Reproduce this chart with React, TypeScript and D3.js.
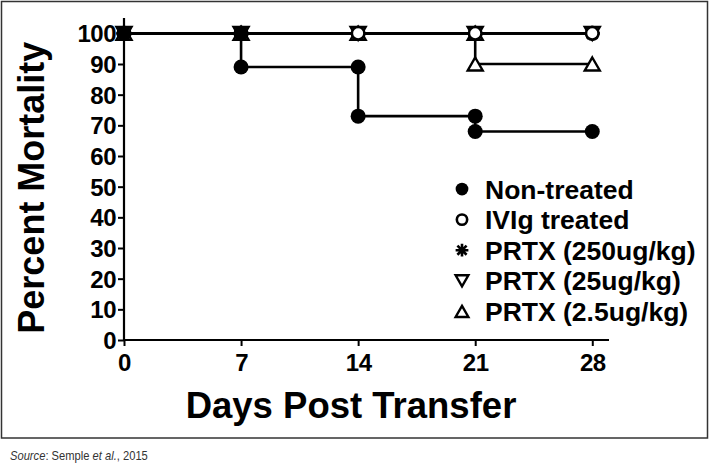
import { useRef, useEffect } from 'react';
import * as d3 from 'd3';

// Kaplan-Meier style mortality data
const DAYS = [0, 7, 14, 21, 28];
const NON_TREATED = [100, 89, 73, 68, 68];
const IVIG_TREATED = [100, 100, 100, 100, 100];
const PRTX_250 = [100, 100, 100, 100, 100];
const PRTX_25 = [100, 100, 100, 100, 100];
const PRTX_2_5 = [100, 100, 100, 90, 90];

const Y_TICKS = [0, 10, 20, 30, 40, 50, 60, 70, 80, 90, 100];
const X_TICKS = [0, 7, 14, 21, 28];

type Shape = 'filled' | 'open' | 'asterisk' | 'down' | 'up';

const SERIES: { name: string; values: number[]; shape: Shape }[] = [
  { name: 'PRTX (250ug/kg)', values: PRTX_250, shape: 'asterisk' },
  { name: 'PRTX (25ug/kg)', values: PRTX_25, shape: 'down' },
  { name: 'PRTX (2.5ug/kg)', values: PRTX_2_5, shape: 'up' },
  { name: 'IVIg treated', values: IVIG_TREATED, shape: 'open' },
  { name: 'Non-treated', values: NON_TREATED, shape: 'filled' },
];

const LEGEND_ORDER = ['Non-treated', 'IVIg treated', 'PRTX (250ug/kg)', 'PRTX (25ug/kg)', 'PRTX (2.5ug/kg)'];

const FONT = '"Liberation Sans", Arial, sans-serif';

function drawMarker(g: d3.Selection<SVGGElement, unknown, null, undefined>, shape: Shape, cx: number, cy: number, s = 1) {
  const r = 7.5 * s;
  if (shape === 'filled') {
    g.append('circle').attr('cx', cx).attr('cy', cy).attr('r', r).attr('fill', '#000');
  } else if (shape === 'open') {
    g.append('circle').attr('cx', cx).attr('cy', cy).attr('r', r - 1.2)
      .attr('fill', '#fff').attr('stroke', '#000').attr('stroke-width', 2.6);
  } else if (shape === 'asterisk') {
    const a = 7.5 * s, d = a * 0.72;
    g.append('path')
      .attr('d', `M${cx - a},${cy}H${cx + a}M${cx},${cy - a}V${cy + a}M${cx - d},${cy - d}L${cx + d},${cy + d}M${cx - d},${cy + d}L${cx + d},${cy - d}`)
      .attr('stroke', '#000').attr('stroke-width', 2.6).attr('fill', 'none');
  } else {
    const w = 7.5 * s, h = 6.5 * s;
    const dir = shape === 'up' ? 1 : -1;
    g.append('path')
      .attr('d', `M${cx},${cy - dir * h}L${cx + w},${cy + dir * h}L${cx - w},${cy + dir * h}Z`)
      .attr('fill', '#fff').attr('stroke', '#000').attr('stroke-width', 2.4).attr('stroke-linejoin', 'miter');
  }
}

export default function App() {
  const svgRef = useRef<SVGSVGElement>(null);

  useEffect(() => {
    if (!svgRef.current) return;
    const width = 712;
    const height = 469;
    const svg = d3.select(svgRef.current);
    svg.selectAll('*').remove();

    const x = d3.scaleLinear().domain([0, 29]).range([124, 609]);
    const y = d3.scaleLinear().domain([0, 105]).range([340, 18]);

    svg.append('rect').attr('width', width).attr('height', height).attr('fill', '#fff');

    // Frame
    svg.append('rect')
      .attr('x', 1.5).attr('y', 1.5).attr('width', 706).attr('height', 436.5)
      .attr('fill', 'none').attr('stroke', '#333').attr('stroke-width', 1.5);

    // Axes
    svg.append('g')
      .attr('transform', `translate(${x(0)},0)`)
      .call(d3.axisLeft(y).tickValues(Y_TICKS).tickSize(6).tickPadding(2).tickFormat(d => `${d}`))
      .call(g => g.select('.domain').attr('stroke', '#000').attr('stroke-width', 2.2).attr('d', `M0,${y(0)}V${y(105)}`))
      .call(g => g.selectAll('.tick line').attr('stroke', '#000').attr('stroke-width', 2))
      .call(g => g.selectAll('.tick text')
        .attr('fill', '#000').attr('font-size', '24px').attr('font-weight', 'bold')
        .attr('font-family', FONT).attr('dy', '0.36em').attr('letter-spacing', '-0.5px'));

    svg.append('g')
      .attr('transform', `translate(0,${y(0)})`)
      .call(d3.axisBottom(x).tickValues(X_TICKS).tickSize(6).tickPadding(8).tickFormat(d => `${d}`))
      .call(g => g.select('.domain').attr('stroke', '#000').attr('stroke-width', 2.2).attr('d', `M${x(0)},0H${x(29)}`))
      .call(g => g.selectAll('.tick line').attr('stroke', '#000').attr('stroke-width', 2))
      .call(g => g.selectAll('.tick text')
        .attr('fill', '#000').attr('font-size', '24px').attr('font-weight', 'bold')
        .attr('font-family', FONT).attr('letter-spacing', '-0.5px'));

    // Axis titles
    svg.append('text')
      .attr('x', 351).attr('y', 418)
      .attr('text-anchor', 'middle')
      .attr('font-family', FONT).attr('font-weight', 'bold').attr('font-size', '36.5px')
      .attr('fill', '#000')
      .text('Days Post Transfer');

    svg.append('text')
      .attr('transform', `translate(44,${(y(0) + y(100)) / 2 + 1}) rotate(-90)`)
      .attr('text-anchor', 'middle')
      .attr('font-family', FONT).attr('font-weight', 'bold').attr('font-size', '36px')
      .attr('fill', '#000')
      .text('Percent Mortality');

    // Step lines
    const line = d3.line<number>()
      .x((_, i) => x(DAYS[i]))
      .y(d => y(d))
      .curve(d3.curveStepAfter);

    SERIES.forEach(s => {
      svg.append('path')
        .attr('d', line(s.values))
        .attr('fill', 'none').attr('stroke', '#000').attr('stroke-width', 2.6);
    });

    // Markers: at each day, the value before and after any drop
    const marks = svg.append('g');
    SERIES.forEach(s => {
      s.values.forEach((v, i) => {
        if (i > 0 && s.values[i - 1] !== v) drawMarker(marks, s.shape, x(DAYS[i]), y(s.values[i - 1]));
        drawMarker(marks, s.shape, x(DAYS[i]), y(v));
      });
    });

    // Legend
    const legend = svg.append('g');
    LEGEND_ORDER.forEach((name, i) => {
      const s = SERIES.find(d => d.name === name)!;
      const cy = 189 + i * 30.6;
      drawMarker(legend, s.shape, 462, cy, 0.85);
      legend.append('text')
        .attr('x', 485).attr('y', cy + 9.5)
        .attr('font-family', FONT).attr('font-weight', 'bold').attr('font-size', '26.5px')
        .attr('fill', '#000')
        .text(name);
    });

    // Source note
    const src = svg.append('text')
      .attr('transform', 'translate(10,460) scale(0.86,1)')
      .attr('font-family', FONT).attr('font-size', '13px').attr('fill', '#333');
    src.append('tspan').attr('font-style', 'italic').text('Source');
    src.append('tspan').text(': Semple ');
    src.append('tspan').attr('font-style', 'italic').text('et al.');
    src.append('tspan').text(', 2015');
  }, []);

  return (
    <svg
      ref={svgRef}
      width={712}
      height={469}
      viewBox="0 0 712 469"
      style={{ position: 'absolute', left: 0, top: 0, display: 'block' }}
    />
  );
}
